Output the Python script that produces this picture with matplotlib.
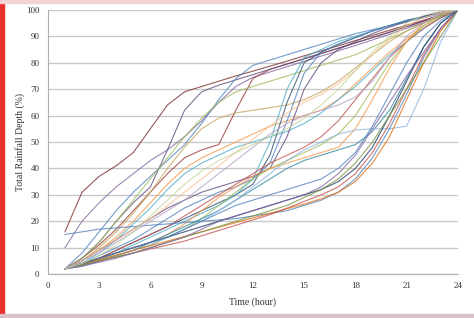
import matplotlib
matplotlib.use('Agg')
import matplotlib.pyplot as plt
from matplotlib.patches import Rectangle

hours = list(range(1, 25))

# early storms
e1 = [16, 31, 37, 41, 46, 55, 64, 69, 71, 73, 75, 76.8, 78.7, 80.6, 82.6, 84.5, 86.4, 88.4, 90.3, 92.3, 94.2, 96.1, 98, 100]
e2 = [10, 20, 27, 33, 38, 43, 47, 52, 58, 65, 71, 74.5, 76.5, 78.5, 80.5, 82.5, 84.5, 86.5, 88.6, 90.8, 93, 95.2, 97.5, 100]
e3 = [2, 6, 11, 17, 24, 31, 38, 44, 47, 49, 62, 74, 77.5, 79.5, 81.5, 83.5, 85.5, 87.5, 89.5, 91.6, 93.7, 95.8, 98, 100]
e4 = [2, 6, 12, 20, 27, 33, 47, 62, 69, 71.5, 73.5, 75.5, 77.5, 79.5, 81.5, 83.5, 85.5, 87.5, 89.5, 91.5, 93.6, 95.7, 97.8, 100]

# second quartile
m1 = [2, 8, 16, 24, 31, 37, 43, 49, 57, 66, 74, 79, 81, 83, 85, 87, 89, 91, 92.5, 94, 95.5, 97, 98.5, 100]
m2 = [2, 6, 12, 20, 28, 36, 44, 52, 59, 65, 69, 71, 73, 75, 77, 79, 81, 83, 86, 89, 92, 95, 97.5, 100]
m3 = [2, 5, 9, 14, 20, 27, 34, 40, 44, 47, 50, 53, 56, 58, 60, 62, 66, 72, 78, 84, 89, 94, 97, 100]
m4 = [2, 4, 8, 13, 19, 25, 32, 38, 42, 45, 48, 50, 52, 54, 57, 61, 66, 71, 77, 83, 88, 93, 97, 100]
m5 = [2, 5, 10, 16, 23, 31, 40, 48, 55, 59, 61, 62, 63, 64, 66, 69, 73, 78, 83, 88, 92, 95, 98, 100]

# steep rise around hour 13-15
s1 = [2, 4, 6, 9, 12, 15, 18, 21, 24, 27, 30, 34, 45, 65, 80, 84, 87, 89.5, 92, 94, 96, 97.5, 99, 100]
s2 = [2, 3.5, 5.5, 8, 11, 14, 17, 20, 23, 26, 30, 36, 50, 70, 82, 85, 88, 90, 92, 94, 96, 97.5, 99, 100]
s3 = [2, 4, 7, 10, 13, 17, 21, 25, 28, 31, 33, 36, 42, 58, 76, 84, 87, 89.5, 92, 94, 96, 97.5, 99, 100]
s4 = [2, 5, 9, 13, 17, 21, 25, 28, 31, 33, 35, 37, 40, 52, 70, 80, 85, 88, 91, 93.5, 95.5, 97.5, 99, 100]

# third quartile
d1 = [2, 4, 6, 9, 12, 15, 18, 22, 26, 30, 34, 38, 42, 45, 48, 52, 58, 66, 74, 82, 88, 93, 97, 100]
d2 = [2, 3.5, 5, 7, 9, 11, 14, 17, 21, 26, 31, 36, 40, 43, 46, 49, 53, 60, 70, 80, 88, 94, 98, 100]
d3 = [2, 4, 6, 8, 10, 12, 15, 19, 24, 29, 33, 37, 40, 42, 44, 46, 48, 55, 66, 78, 88, 95, 98.5, 100]
d4 = [2, 3, 5, 7, 9, 12, 15, 18, 21, 24, 28, 32, 36, 40, 43, 45, 47, 49, 54, 62, 74, 86, 95, 100]
p1 = [2, 3.5, 5, 7, 9, 11, 14, 17, 20, 24, 28, 33, 38, 43, 47, 50, 53, 54.5, 55, 55, 56, 70, 88, 100]
f1 = [15, 16, 17, 17.5, 18, 18.5, 19, 19.5, 20, 20.5, 21, 22, 23, 24, 26, 28, 31, 36, 44, 55, 68, 82, 93, 100]

# late storms
l1 = [2, 3.75, 5.5, 7.25, 9, 10.75, 12.5, 14.25, 16, 17.75, 19.5, 21.25, 23, 24.75, 26.5, 28.5, 31, 35, 42, 52, 66, 80, 92, 100]
l2 = [2, 3.5, 5, 6.5, 8, 9.5, 11, 12.5, 14.5, 16.5, 18.5, 20.5, 22.5, 25, 27.5, 30, 33, 38, 46, 57, 70, 83, 93, 100]
l3 = [2, 4, 6, 8, 10, 12, 14, 16, 18, 20, 22, 24, 26, 28, 30, 32, 35, 40, 48, 60, 73, 86, 95, 100]
l4 = [2, 3.5, 5, 6.5, 8, 10, 12, 14, 16, 18, 20, 22, 24, 26, 29, 32, 36, 42, 50, 60, 70, 80, 90, 100]
l5 = [2, 3, 4.5, 6, 8, 10, 12, 14, 17, 20, 22, 24, 26, 28, 30, 33, 38, 45, 55, 65, 75, 84, 93, 100]
l6 = [2, 4, 6, 8, 10, 12, 14, 17, 20, 23, 26, 28, 30, 32, 34, 36, 40, 46, 56, 68, 80, 90, 96, 100]

# upper middle
u1 = [2, 5, 9, 13, 17, 21, 26, 31, 36, 41, 46, 51, 56, 61, 65, 68, 72, 77, 83, 89, 94, 97, 99, 100]
u2 = [2, 5, 8, 12, 16, 20, 24, 28, 33, 38, 43, 48, 53, 57, 60, 62, 64, 67, 73, 82, 90, 95, 98.5, 100]
u3 = [2, 4, 7, 11, 16, 22, 28, 34, 39, 43, 46, 49, 52, 55, 59, 64, 70, 77, 84, 90, 95, 98, 99.5, 100]

curvas = [e1, e2, e3, e4, m1, m2, m3, m4, m5, s1, s2, s3, s4, d1, d2, d3, d4, p1, f1,
          l1, l2, l3, l4, l5, l6, u1, u2, u3]

cores = ['#772C2A', '#8064A2', '#953735', '#604A7B', '#4F81BD', '#9BBB59', '#F79646', '#4BACC6',
         '#C4A35A', '#2C4D75', '#4BACC6', '#4F81BD', '#604A7B', '#C0504D', '#9BBB59', '#F79646',
         '#31859C', '#8EB4E3', '#4F81BD', '#E46C0A', '#C0504D', '#1F3864', '#77933C', '#8064A2',
         '#4F81BD', '#FAC090', '#B3A2C7', '#C3D69B']

fig = plt.figure(figsize=(4.74, 3.18), dpi=100)
ax = fig.add_axes([0.101, 0.138, 0.865, 0.831])

for i, curva in enumerate(curvas):
    ax.plot(hours, curva, color=cores[i % len(cores)], linewidth=0.8, alpha=0.78, zorder=3)

ax.set_xlim(0, 24)
ax.set_ylim(0, 100)
ax.set_xticks(range(0, 25, 3))
ax.set_yticks(range(0, 101, 10))
ax.yaxis.grid(True, color='#c8c8c8', linewidth=1.0, zorder=0)
ax.set_axisbelow(True)

for lado in ['top', 'right']:
    ax.spines[lado].set_visible(False)
ax.spines['left'].set_color('#b0b0b0')
ax.spines['bottom'].set_color('#b0b0b0')
ax.tick_params(length=0, labelsize=6.5, colors='#333333', pad=6)
for lab in ax.get_xticklabels() + ax.get_yticklabels():
    lab.set_fontfamily('Liberation Serif')

ax.set_xlabel('Time (hour)', fontsize=7, family='Liberation Serif', color='#333333', labelpad=5)
ax.set_ylabel('Total Rainfall Depth (%)', fontsize=7, family='Liberation Serif', color='#333333', labelpad=1)

# moldura da figura
fig.patches.append(Rectangle((0, 0), 4 / 474, 1, transform=fig.transFigure, color='#e8312a', zorder=10))
fig.patches.append(Rectangle((0, 1 - 3 / 318), 1, 3 / 318, transform=fig.transFigure, color='#f2d4d4', zorder=10))
fig.patches.append(Rectangle((0, 0), 1, 4 / 318, transform=fig.transFigure, color='#d8c4c8', zorder=10))

plt.savefig('out.png', dpi=100)
plt.close()
